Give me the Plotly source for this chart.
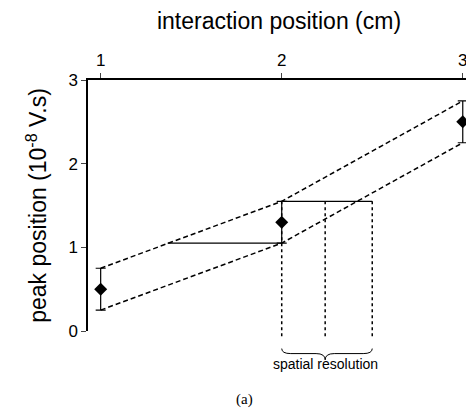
import plotly.graph_objects as go

x_pos = [1, 2, 3]
peak = [0.5, 1.3, 2.5]
err = [0.25, 0.25, 0.25]
upper = [0.75, 1.55, 2.75]
lower = [0.25, 1.05, 2.25]
h_low_x = [1.37, 2.0]; h_low_y = [1.05, 1.05]
h_up_x = [2.0, 2.5]; h_up_y = [1.55, 1.55]
dot_x = [2.0, 2.24, 2.5]
dot_top = 1.55

fig = go.Figure()
dash = "5px,3px"
fig.add_trace(go.Scatter(x=x_pos, y=upper, mode="lines", line=dict(color="black", dash=dash, width=1.5)))
fig.add_trace(go.Scatter(x=x_pos, y=lower, mode="lines", line=dict(color="black", dash=dash, width=1.5)))
fig.add_trace(go.Scatter(x=h_low_x, y=h_low_y, mode="lines", line=dict(color="black", width=1.2)))
fig.add_trace(go.Scatter(x=h_up_x, y=h_up_y, mode="lines", line=dict(color="black", width=1.2)))
fig.add_trace(go.Scatter(x=x_pos, y=peak, mode="markers",
                         marker=dict(symbol="diamond", color="black", size=10),
                         error_y=dict(type="data", array=err, color="black", thickness=1.2, width=5)))

ymax = 3.0
for xv in dot_x:
    fig.add_shape(type="line", xref="x", yref="paper", x0=xv, x1=xv, y0=dot_top / ymax, y1=-0.027,
                  line=dict(color="black", dash="dot", width=1.5))
fig.add_shape(type="path", xref="x", yref="paper",
              path="M 2.0,-0.07 Q 2.0,-0.09 2.05,-0.09 L 2.19,-0.09 Q 2.24,-0.09 2.24,-0.115 "
                   "Q 2.24,-0.09 2.29,-0.09 L 2.45,-0.09 Q 2.5,-0.09 2.5,-0.07",
              line=dict(color="black", width=1))
fig.add_annotation(text="spatial resolution", xref="x", yref="paper", x=2.24, y=-0.17,
                   showarrow=False, font=dict(size=14, color="black"))
fig.add_annotation(text="(a)", xref="paper", yref="paper", x=0.41, y=-0.315,
                   showarrow=False, font=dict(size=15, color="black", family="Liberation Serif"))

fig.update_layout(
    width=474, height=417, showlegend=False,
    plot_bgcolor="white", paper_bgcolor="white",
    margin=dict(l=80, r=12, t=63, b=94),
    font=dict(family="Liberation Sans", color="black"),
    xaxis=dict(side="top", range=[0.93, 3.04], tickvals=[1, 2, 3], ticks="outside", ticklen=5,
               showgrid=False, zeroline=False, showline=True, linecolor="black", linewidth=1.5,
               tickfont=dict(size=17), title=dict(text="interaction position (cm)", font=dict(size=23))),
    yaxis=dict(range=[0, 3], tickvals=[0, 1, 2, 3], ticks="outside", ticklen=5,
               showgrid=False, zeroline=False, showline=True, linecolor="black", linewidth=1.5,
               tickfont=dict(size=17),
               title=dict(text="peak position (10<sup>-8</sup> V.s)", font=dict(size=23))),
)
fig.write_html("out.html")
